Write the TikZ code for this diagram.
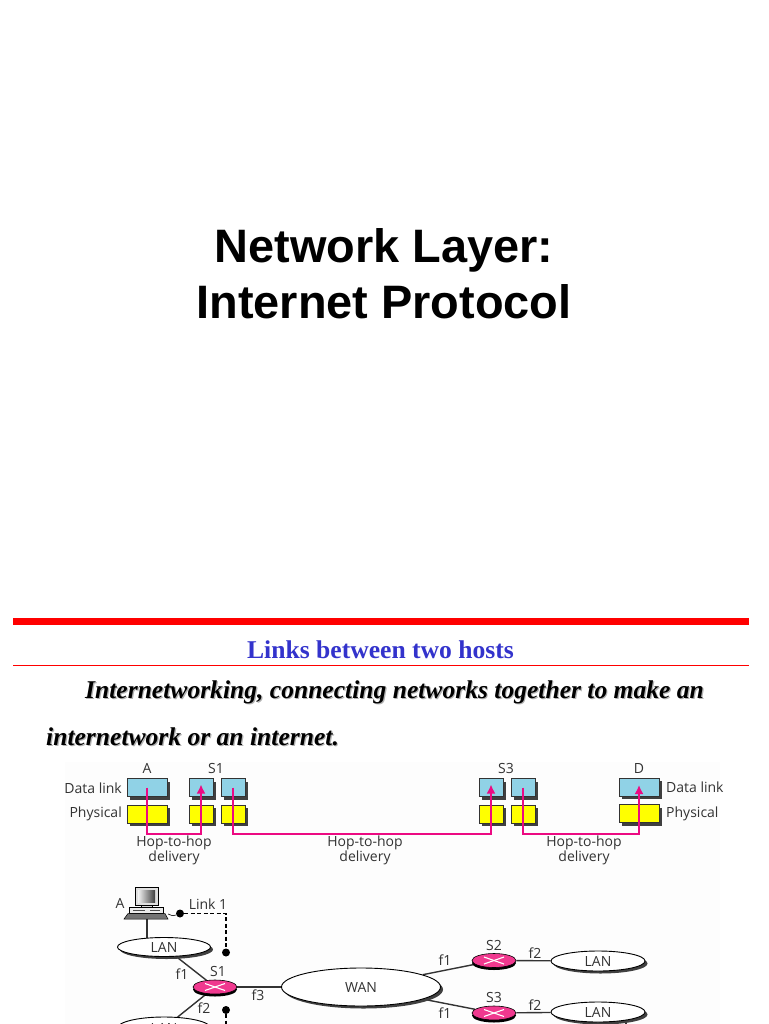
\documentclass[tikz,border=0pt]{standalone}
\usepackage{fontspec}
\setmainfont{Liberation Serif}
\newfontfamily\arialfont{Liberation Sans}
\newfontfamily\labelfont{Open Sans}
\usetikzlibrary{shadows,arrows.meta,calc,shapes.geometric}
\pgfdeclarelayer{base}
\pgfdeclarelayer{wires}
\pgfsetlayers{base,wires,main}
\definecolor{skyb}{HTML}{90D2E6}
\definecolor{yel}{HTML}{FFFF00}
\definecolor{pinkline}{HTML}{EC0A82}
\definecolor{pinkfill}{HTML}{F0398F}
\definecolor{titleblue}{HTML}{3333CC}
\definecolor{barred}{HTML}{FF0000}
\definecolor{ink}{HTML}{333333}
\newcommand{\shadowtext}[1]{\makebox[0pt][l]{\kern1.2pt\raisebox{-1.2pt}{\textcolor{black!30}{#1}}}#1}
\tikzset{
  x=1pt,y=-1pt,
  layerbox/.style={draw=ink,line width=0.8pt,minimum height=18pt,inner sep=0pt,
    drop shadow={shadow xshift=3pt,shadow yshift=-3pt,fill=black!75,opacity=1}},
  wide/.style={layerbox,minimum width=40pt},
  narrow/.style={layerbox,minimum width=24pt},
  dl/.style={fill=skyb},
  ph/.style={fill=yel},
  lbl/.style={font=\labelfont\fontsize{14}{15}\selectfont,text=black!80,align=center,inner sep=0pt},
  hop/.style={draw=pinkline,line width=1.8pt,line join=miter},
  hoparrow/.style={hop,-{Latex[length=9pt,width=9pt]}},
  cloud/.style={ellipse,draw=black,line width=0.9pt,fill=white,inner sep=0pt,
    drop shadow={shadow xshift=2.5pt,shadow yshift=-2.5pt,fill=black!75,opacity=1}},
  router/.style={ellipse,draw=black,line width=0.6pt,fill=pinkfill,minimum width=44pt,minimum height=14pt,inner sep=0pt,
    drop shadow={shadow xshift=0pt,shadow yshift=-2.5pt,fill=black,opacity=1}},
  wire/.style={draw=black!80,line width=1.4pt},
  dotend/.style={circle,fill=black,minimum size=8pt,inner sep=0pt},
  linkline/.style={draw=black,line width=1.2pt,dash pattern=on 4pt off 2.5pt},
  heading/.style={font=\arialfont\bfseries\fontsize{46.9}{56}\selectfont,anchor=base,inner sep=0pt},
  body/.style={font=\bfseries\itshape\fontsize{25.57}{30}\selectfont,anchor=base west,inner sep=0pt},
}
\begin{document}
\begin{tikzpicture}
\useasboundingbox (0,0) rectangle (768,1024);
\clip (0,0) rectangle (768,1024);
\begin{pgfonlayer}{base}
\fill[white] (0,0) rectangle (768,1024);
\fill[black!0.6] (65,762) rectangle (720,1024);
\end{pgfonlayer}

% title
\node[heading] (t1) at (384,262) {Network Layer:};
\node[heading] (t2) at (384,318) {Internet Protocol};

% header rules
\fill[barred] (13,618) rectangle (749,624.5);
\fill[barred] (13,664.8) rectangle (749,666.2);
\node[font=\bfseries\fontsize{25.6}{30}\selectfont,text=titleblue,inner sep=0pt] (sub) at (380.5,650) {Links between two hosts};
\node[body] (b1) at (85,698) {\shadowtext{Internetworking, connecting networks together to make an}};
\node[body] (b2) at (46,745) {\shadowtext{internetwork or an internet.}};

% top stack diagram
\node[wide,dl] (Ad) at (147,787.5) {};
\node[wide,ph] (Ap) at (147,814) {};
\node[narrow,dl] (S1ad) at (201,787.5) {};
\node[narrow,ph] (S1ap) at (201,814) {};
\node[narrow,dl] (S1bd) at (233,787.5) {};
\node[narrow,ph] (S1bp) at (233,814) {};
\node[narrow,dl] (S3ad) at (491,787.5) {};
\node[narrow,ph] (S3ap) at (491,814) {};
\node[narrow,dl] (S3bd) at (523,787.5) {};
\node[narrow,ph] (S3bp) at (523,814) {};
\node[wide,dl] (Dd) at (639,787) {};
\node[wide,ph] (Dp) at (639,813.5) {};

\node[lbl] (la) at (147,768) {A};
\node[lbl] (ls1) at (216,768) {S1};
\node[lbl] (ls3) at (506,768) {S3};
\node[lbl] (ld) at (639,768) {D};
\node[lbl,anchor=east] (ldl) at (122,788) {Data link};
\node[lbl,anchor=east] (lph) at (122,814) {Physical};
\node[lbl,anchor=west] (rdl) at (666,787) {Data link};
\node[lbl,anchor=west] (rph) at (666,813.5) {Physical};

\coordinate (r1) at (0,834);
\draw[hoparrow] (Ad.center) -- (Ad.center |- r1) -- (S1ad.center |- r1) -- ($(S1ad.center)+(0,-3)$);
\draw[hoparrow] (S1bd.center) -- (S1bd.center |- r1) -- (S3ad.center |- r1) -- ($(S3ad.center)+(0,-3)$);
\draw[hoparrow] (S3bd.center) -- (S3bd.center |- r1) -- (Dd.center |- r1) -- ($(Dd.center)+(0,-2)$);

\node[lbl] (h1) at (174,850) {Hop-to-hop\\delivery};
\node[lbl] (h2) at (365,850) {Hop-to-hop\\delivery};
\node[lbl] (h3) at (584,850) {Hop-to-hop\\delivery};

% computer A
\node[lbl] (lA) at (120,903) {A};
\fill[black!12,draw=black,line width=0.7pt] (135,887) rectangle (158,905);
\shade[left color=black!5,right color=black!75] (138,890) rectangle (155,902);
\fill[black!15,draw=black,line width=0.5pt] (141,905) rectangle (152,907);
\fill[black!8,draw=black,line width=0.6pt] (129,907) rectangle (163,913.5);
\draw[black!70,line width=0.6pt] (133,910) -- (145,910) (150,910) -- (160,910);
\fill[black!55,draw=black,line width=0.5pt] (124,919) -- (128,913.5) -- (165,913.5) -- (168,919) -- cycle;
\draw[black,line width=0.6pt] (168,914) .. controls (171,914) and (171,917) .. (176,915);

\node[dotend] (d1) at (180,913.5) {};
\node[dotend] (d2) at (226,952.5) {};
\node[dotend] (d3) at (226,1010) {};
\coordinate (dc) at (226,913.5);
\coordinate (dbot) at (226,1030);
\draw[linkline] (d1) -- (dc) -- (d2);
\draw[linkline] (d3) -- (dbot);
\node[lbl] (link) at (208,904) {Link 1};

% network
\node[cloud,minimum width=93pt,minimum height=19pt] (lan1) at (164,947) {};
\node[cloud,minimum width=93pt,minimum height=22pt] (lan3) at (164,1028) {};
\node[cloud,minimum width=159pt,minimum height=38pt] (wan) at (361,987) {};
\node[cloud,minimum width=94pt,minimum height=20pt] (lan4) at (598,961) {};
\node[cloud,minimum width=94pt,minimum height=20pt] (lan5) at (598,1012) {};
\node[router] (s1) at (215,987) {};
\node[router] (s2) at (494,960.5) {};
\node[router] (s3) at (494,1013) {};
\foreach \r in {s1,s2,s3}{
  \draw[white,line width=1.1pt] ($(\r.center)+(-10,-3.5)$) -- ($(\r.center)+(10,3.5)$);
  \draw[white,line width=1.1pt] ($(\r.center)+(-10,3.5)$) -- ($(\r.center)+(10,-3.5)$);
}
\begin{pgfonlayer}{wires}
\coordinate (pcb) at (147,919);
\draw[wire] (pcb) -- (lan1.center -| pcb);
\draw[wire] (lan1) -- (s1);
\draw[wire] (s1) -- (lan3);
\draw[wire] (s1) -- (wan);
\draw[wire] (wan) -- (s2);
\draw[wire] (wan) -- (s3);
\draw[wire] (s2) -- (lan4);
\draw[wire] (s3) -- (lan5);
\coordinate (lan5b) at (626,1019);
\coordinate (lan5c) at (626,1030);
\draw[wire] (lan5b) -- (lan5c);
\end{pgfonlayer}

\node[lbl] at (lan1.center) (tlan1) {LAN};
\node[lbl] at (lan3.center) (tlan3) {LAN};
\node[lbl] at (wan.center) (twan) {WAN};
\node[lbl] at (lan4.center) (tlan4) {LAN};
\node[lbl] at (lan5.center) (tlan5) {LAN};
\node[lbl] (f1a) at (182,974) {f1};
\node[lbl] (s1l) at (218,971) {S1};
\node[lbl] (f2a) at (204,1008) {f2};
\node[lbl] (f3a) at (258,995) {f3};
\node[lbl] (f1b) at (445,960) {f1};
\node[lbl] (s2l) at (494,945) {S2};
\node[lbl] (f2b) at (535,953) {f2};
\node[lbl] (f1c) at (445,1013) {f1};
\node[lbl] (s3l) at (494,997) {S3};
\node[lbl] (f2c) at (535,1005) {f2};
\end{tikzpicture}
\end{document}
